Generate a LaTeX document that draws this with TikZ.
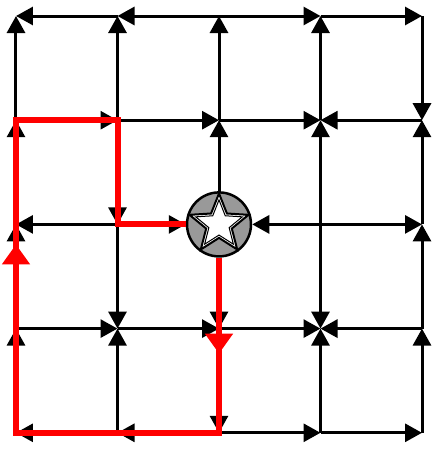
\documentclass[tikz,border=0pt]{standalone}
\usetikzlibrary{arrows.meta, shapes.geometric}

\begin{document}
\begin{tikzpicture}[x=101.5pt, y=-104.2pt,
    gridarrow/.style={line width=3pt, -{Triangle[length=17pt, width=18pt]}},
    redpath/.style={red, line width=6pt},
    redtip/.style={red, line width=6pt, -{Triangle[length=20pt, width=27pt]}}]
  \useasboundingbox (-16pt, 16pt) rectangle (423pt, -434pt);
  \foreach \c in {0,...,4}
    \foreach \r in {0,...,4}
      \coordinate (n\c\r) at (\c, \r);
  \node[circle, draw, line width=2.5pt, fill=gray!80, minimum size=64pt, inner sep=0pt] (goal) at (n22) {};
  \node[star, star points=5, star point ratio=2.3, draw, line width=2pt, fill=white, minimum size=62pt, inner sep=0pt] (outerstar) at (goal) {};
  \node[star, star points=5, star point ratio=2.3, draw, line width=1pt, fill=white, minimum size=49pt, inner sep=0pt] (innerstar) at (goal) {};
  \foreach \a/\b in {n10/n00, n20/n10, n20/n30, n30/n40,
      n01/n00, n11/n10, n21/n20, n31/n30, n40/n41,
      n01/n11, n11/n21, n21/n31, n41/n31,
      n02/n01, n11/n12, goal/n21, n32/n31, n42/n41,
      n12/n02, n12/goal, n32/goal, n32/n42,
      n03/n02, n12/n13, goal/n23, n32/n33, n43/n42,
      n03/n13, n13/n23, n23/n33, n43/n33,
      n04/n03, n14/n13, n23/n24, n34/n33, n44/n43,
      n14/n04, n24/n14, n24/n34, n34/n44}
    \draw[gridarrow] (\a) -- (\b);
  \draw[redpath] (goal.south) -- (n24) -- (n04) -- (n01) -- (n11) -- (n12) -- (goal.west);
  \draw[redtip] (n23) -- ([yshift=-25pt]n23);
  \draw[redtip] ([yshift=-60pt]n02) -- ([yshift=-20pt]n02);
\end{tikzpicture}
\end{document}
